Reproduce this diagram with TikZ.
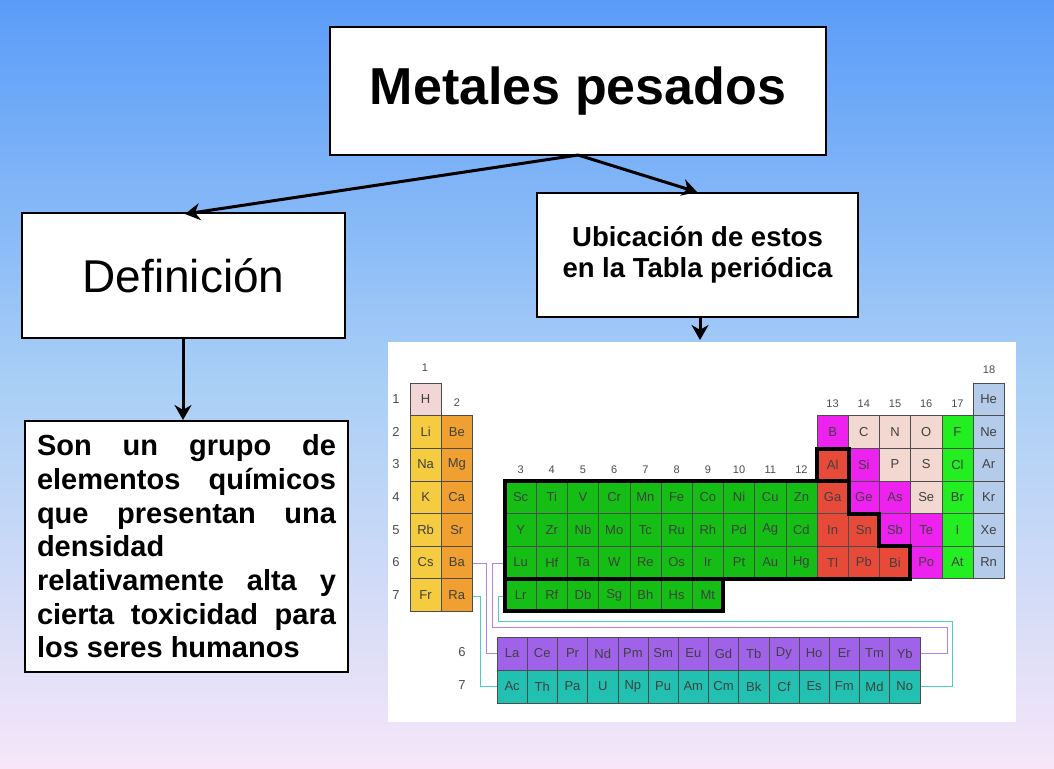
\documentclass[tikz,border=0pt]{standalone}
\usepackage{fontspec}
\setmainfont{Liberation Sans}
\setsansfont{Liberation Sans}
\usetikzlibrary{arrows.meta}
\definecolor{bgtop}{HTML}{5A9CF8}
\definecolor{bgmid}{HTML}{A9CFF6}
\definecolor{bgbot}{HTML}{F6E6F8}
\definecolor{gA}{HTML}{F5CC40}
\definecolor{gB}{HTML}{EFA030}
\definecolor{hyd}{HTML}{F2D6D6}
\definecolor{tr}{HTML}{14BE14}
\definecolor{rd}{HTML}{E84A3A}
\definecolor{mg}{HTML}{EE22EE}
\definecolor{pk}{HTML}{F2D8D0}
\definecolor{hal}{HTML}{22EE22}
\definecolor{nob}{HTML}{B4CCEA}
\definecolor{lan}{HTML}{A062E8}
\definecolor{act}{HTML}{22C0B0}
\tikzset{
 box/.style={draw=black,line width=1.3pt,fill=white},
 arr/.style={line width=3pt,-{Stealth[length=15pt,width=17pt]}},
 cellst/.style={draw=black!70,line width=0.6pt,minimum width=31.2pt,minimum height=32.6pt,inner sep=0pt,font=\fontsize{13}{13}\selectfont,text=black!75},
 lcell/.style={cellst,minimum width=30.2pt,minimum height=33pt},
 num/.style={font=\fontsize{11}{11}\selectfont,text=black!70,inner sep=0pt},
 hv/.style={line width=4pt,line join=miter}
}
\newcommand\pe[4]{\pgfmathsetmacro\cx{#1<3 ? 410+(#1-1)*31.2+15.6 : 505+(#1-3)*31.2+15.6}\pgfmathsetmacro\cy{383+(#2-1)*32.6+16.3}\node[cellst,fill=#3] (c#4) at (\cx,\cy) {#4};}
\newcommand\lp[4]{\pgfmathsetmacro\cx{497+(#1-1)*30.2+15.1}\pgfmathsetmacro\cy{#2}\node[lcell,fill=#3] (c#4) at (\cx,\cy) {#4};}
\begin{document}
\begin{tikzpicture}[x=1pt,y=-1pt]
\useasboundingbox (0,0) rectangle (1054,768);
\shade[top color=bgtop,bottom color=bgmid] (0,0) rectangle (1054,384);
\shade[top color=bgmid,bottom color=bgbot] (0,384) rectangle (1054,768);
% boxes
\node[box,minimum width=496pt,minimum height=128pt,font=\bfseries\fontsize{52}{56}\selectfont] (mp) at (578,91) {Metales pesados};
\node[box,minimum width=323pt,minimum height=125pt,font=\fontsize{46}{50}\selectfont] (def) at (183.5,275.5) {Definición};
\node[box,minimum width=321pt,minimum height=124pt,align=center,font=\bfseries\fontsize{27.5}{31}\selectfont] (ub) at (697.5,255) {Ubicación de estos\\en la Tabla periódica};
\node[box,minimum width=323pt,minimum height=251pt,text width=299pt,inner sep=0pt,align=justify,font=\bfseries\fontsize{29}{33.7}\selectfont] (txt) at (186.5,546.5) {Son un grupo de\linebreak elementos químicos\linebreak que presentan una\linebreak densidad\newline relativamente alta y\linebreak cierta toxicidad para\linebreak los seres humanos};
\node[fill=white,minimum width=628pt,minimum height=380pt,inner sep=0pt] (pt) at (702,532) {};
\coordinate (s) at (578,155);
\draw[arr] (s) -- (185,214);
\draw[arr] (s) -- (697,192);
\draw[arr] (def.south -| 183,0) -- (183,420);
\draw[arr] (ub.south -| 700,0) -- (700,340);
% connector lines
\draw[lan!80,line width=0.8pt] (472,563) -- (486,563) -- (486,653) -- (497,653);
\draw[act!80,line width=0.8pt] (472,596) -- (480,596) -- (480,686) -- (497,686);
\draw[lan!80,line width=0.8pt] (505,563) -- (492,563) -- (492,627) -- (947,627) -- (947,653) -- (920,653);
\draw[act!80,line width=0.8pt] (505,596) -- (498,596) -- (498,621) -- (952,621) -- (952,686) -- (920,686);
% period table
\pe{1}{1}{hyd}{H}
\foreach \s [count=\i from 2] in {Li,Na,K,Rb,Cs,Fr}{\pe{1}{\i}{gA}{\s}}
\foreach \s [count=\i from 2] in {Be,Mg,Ca,Sr,Ba,Ra}{\pe{2}{\i}{gB}{\s}}
\foreach \s [count=\g from 3] in {Sc,Ti,V,Cr,Mn,Fe,Co,Ni,Cu,Zn}{\pe{\g}{4}{tr}{\s}}
\foreach \s [count=\g from 3] in {Y,Zr,Nb,Mo,Tc,Ru,Rh,Pd,Ag,Cd}{\pe{\g}{5}{tr}{\s}}
\foreach \s [count=\g from 3] in {Lu,Hf,Ta,W,Re,Os,Ir,Pt,Au,Hg}{\pe{\g}{6}{tr}{\s}}
\foreach \s [count=\g from 3] in {Lr,Rf,Db,Sg,Bh,Hs,Mt}{\pe{\g}{7}{tr}{\s}}
\pe{13}{2}{mg}{B}\pe{14}{2}{pk}{C}\pe{15}{2}{pk}{N}\pe{16}{2}{pk}{O}\pe{17}{2}{hal}{F}\pe{18}{2}{nob}{Ne}
\pe{13}{3}{rd}{Al}\pe{14}{3}{mg}{Si}\pe{15}{3}{pk}{P}\pe{16}{3}{pk}{S}\pe{17}{3}{hal}{Cl}\pe{18}{3}{nob}{Ar}
\pe{13}{4}{rd}{Ga}\pe{14}{4}{mg}{Ge}\pe{15}{4}{mg}{As}\pe{16}{4}{pk}{Se}\pe{17}{4}{hal}{Br}\pe{18}{4}{nob}{Kr}
\pe{13}{5}{rd}{In}\pe{14}{5}{rd}{Sn}\pe{15}{5}{mg}{Sb}\pe{16}{5}{mg}{Te}\pe{17}{5}{hal}{I}\pe{18}{5}{nob}{Xe}
\pe{13}{6}{rd}{Tl}\pe{14}{6}{rd}{Pb}\pe{15}{6}{rd}{Bi}\pe{16}{6}{mg}{Po}\pe{17}{6}{hal}{At}\pe{18}{6}{nob}{Rn}
\pe{18}{1}{nob}{He}
\foreach \s [count=\i] in {La,Ce,Pr,Nd,Pm,Sm,Eu,Gd,Tb,Dy,Ho,Er,Tm,Yb}{\lp{\i}{653.5}{lan}{\s}}
\foreach \s [count=\i] in {Ac,Th,Pa,U,Np,Pu,Am,Cm,Bk,Cf,Es,Fm,Md,No}{\lp{\i}{686.5}{act}{\s}}
% numbers
\node[num] (n1) at (425,368) {1};
\node[num] (n2) at (457,403) {2};
\foreach \g in {3,...,12}{\node[num] (g\g) at ({505+(\g-3)*31.2+15.6},470) {\g};}
\foreach \g in {13,...,17}{\node[num] (g\g) at ({505+(\g-3)*31.2+15.6},404) {\g};}
\node[num] (g18) at (989,370) {18};
\foreach \p in {1,...,7}{\node[num,font=\fontsize{13}{13}\selectfont] (p\p) at (396,{383+(\p-1)*32.6+16.3}) {\p};}
\node[num,font=\fontsize{13}{13}\selectfont] (l6) at (462,652) {6};
\node[num,font=\fontsize{13}{13}\selectfont] (l7) at (462,685) {7};
% heavy outlines
\draw[hv] (505,481) -- (848.5,481) -- (848.5,514) -- (879,514) -- (879,546) -- (910,546) -- (910,579) -- (505,579) -- cycle;
\draw[hv] (817,481) -- (817,449) -- (848.5,449) -- (848.5,481);
\draw[hv] (505,579) rectangle (723.4,611);
\end{tikzpicture}
\end{document}
